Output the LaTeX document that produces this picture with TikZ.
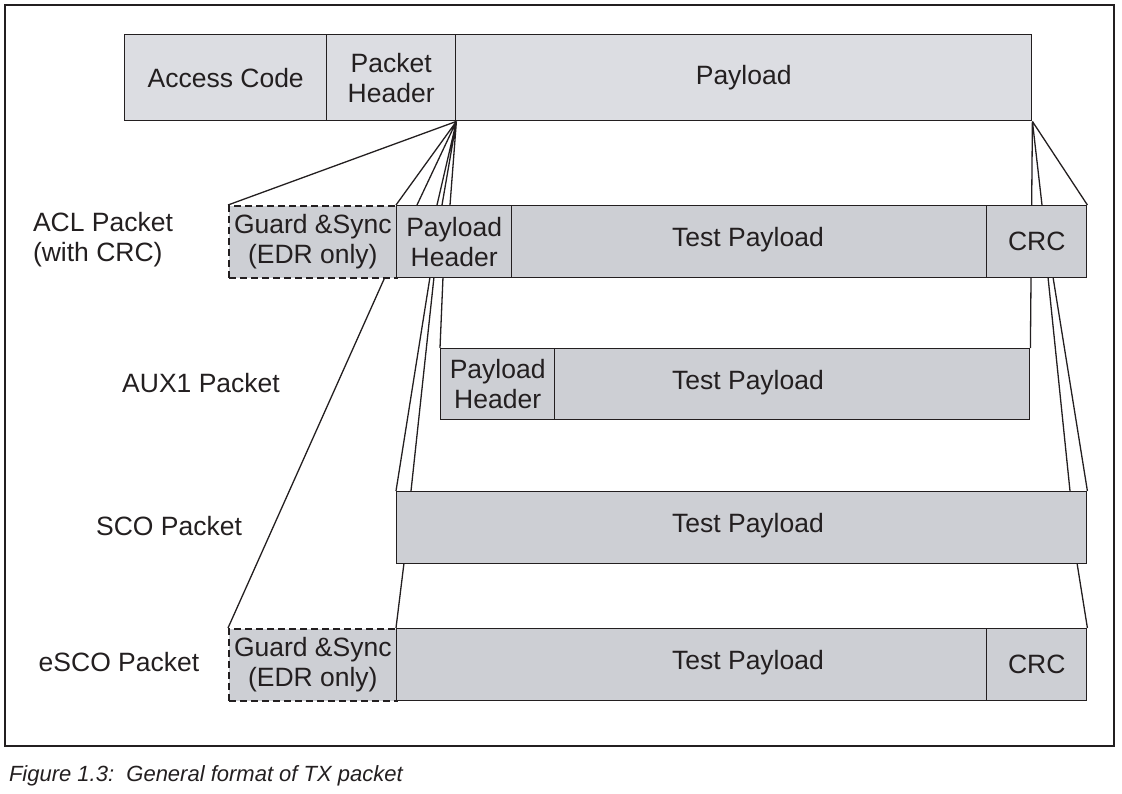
\documentclass[tikz,border=0pt]{standalone}
\usepackage{fontspec}
\setmainfont{Liberation Sans}
\usetikzlibrary{backgrounds}
\definecolor{topg}{HTML}{DCDDE2}
\definecolor{boxg}{HTML}{CDCFD4}
\definecolor{txt}{HTML}{231F20}
\begin{document}
\begin{tikzpicture}[x=1pt,y=-1pt,line width=1.4pt,
  fs/.style={font=\fontsize{26.5}{30}\selectfont,text=txt},
  bx/.style={draw=txt,fill=boxg,rectangle,anchor=north west,inner sep=0pt,fs,align=center},
  tb/.style={bx,fill=topg},
  gd/.style={bx,dash pattern=on 7pt off 4pt,line width=1.6pt},
  lab/.style={fs,align=left},
  ln/.style={draw=txt,line width=1.3pt}]
\useasboundingbox (0,0) rectangle (1122,794);
\draw[txt,line width=1.3pt] (5,5) rectangle (1114,746);
% top
\node[tb,minimum width=202pt,minimum height=86pt] (ac) at (124,34) {Access Code};
\node[tb,minimum width=129pt,minimum height=86pt] (ph) at (326,34) {Packet\\Header};
\node[tb,minimum width=576pt,minimum height=86pt] (pl) at (455,34) {Payload};
% ACL
\node[gd,minimum width=168pt,minimum height=72pt] (g1) at (228,205) {Guard \&Sync\\(EDR only)};
\node[bx,minimum width=115pt,minimum height=72pt] (aph) at (396,205) {Payload\\Header};
\node[bx,minimum width=475pt,minimum height=72pt] (atp) at (511,205) {};
\node[bx,minimum width=100pt,minimum height=72pt] (acrc) at (986,205) {CRC};
% AUX1
\node[bx,minimum width=114pt,minimum height=71pt] (xph) at (440,348) {Payload\\Header};
\node[bx,minimum width=475pt,minimum height=71pt] (xtp) at (554,348) {};
% SCO
\node[bx,minimum width=690pt,minimum height=72pt] (sco) at (396,491) {};
% eSCO
\node[gd,minimum width=168pt,minimum height=72pt] (g2) at (228,628) {Guard \&Sync\\(EDR only)};
\node[bx,minimum width=590pt,minimum height=72pt] (etp) at (396,628) {};
\node[bx,minimum width=100pt,minimum height=72pt] (ecrc) at (986,628) {CRC};
% Test Payload texts
\node[fs] (t1l) at (748,240) {Test Payload};
\node[fs] (t2l) at (748,383) {Test Payload};
\node[fs] (t3l) at (748,526) {Test Payload};
\node[fs] (t4l) at (748,663) {Test Payload};
% labels
\node[lab,anchor=west] (l1) at (29,240) {ACL Packet\\(with CRC)};
\node[lab] (l2) at (201,383) {AUX1 Packet};
\node[lab] (l3) at (169,526) {SCO Packet};
\node[lab] (l4) at (119,662) {eSCO Packet};
\node[anchor=west,font=\fontsize{22}{26}\selectfont\itshape,text=txt] (cap) at (5,776) {Figure 1.3:\ \ General format of TX packet};
\begin{pgfonlayer}{background}
% fan lines left
\coordinate (A) at (ph.south east);
\coordinate (p1) at (417,205); \coordinate (p2) at (437,205);
\coordinate (p3) at (442,205); \coordinate (p4) at (450,205);
\path[ln] (A) -- (g1.north west) (A) -- (aph.north west)
  (A) -- (p1) (A) -- (p2) (A) -- (p3) (A) -- (p4);
\coordinate (b1) at (430,277); \coordinate (b2) at (434,277);
\coordinate (b3) at (443,277); \coordinate (b4) at (385,277);
\coordinate (s1) at (411,491); \coordinate (s2) at (404,563);
\path[ln] (b1) -- (sco.north west) (b2) -- (s1) (b3) -- (xph.north west)
  (b4) -- (g2.north west) (s2) -- (etp.north west);
% fan lines right
\coordinate (B) at (pl.south east);
\coordinate (q1) at (1042,205);
\coordinate (c1) at (1048,277); \coordinate (c2) at (1053,277);
\coordinate (u1) at (1070,491); \coordinate (u2) at (1077,563);
\path[ln] (B) -- (acrc.north east) (B) -- (q1) (B) -- (xtp.north east)
  (c1) -- (u1) (c2) -- (sco.north east) (u2) -- (ecrc.north east);
\end{pgfonlayer}
\end{tikzpicture}
\end{document}
